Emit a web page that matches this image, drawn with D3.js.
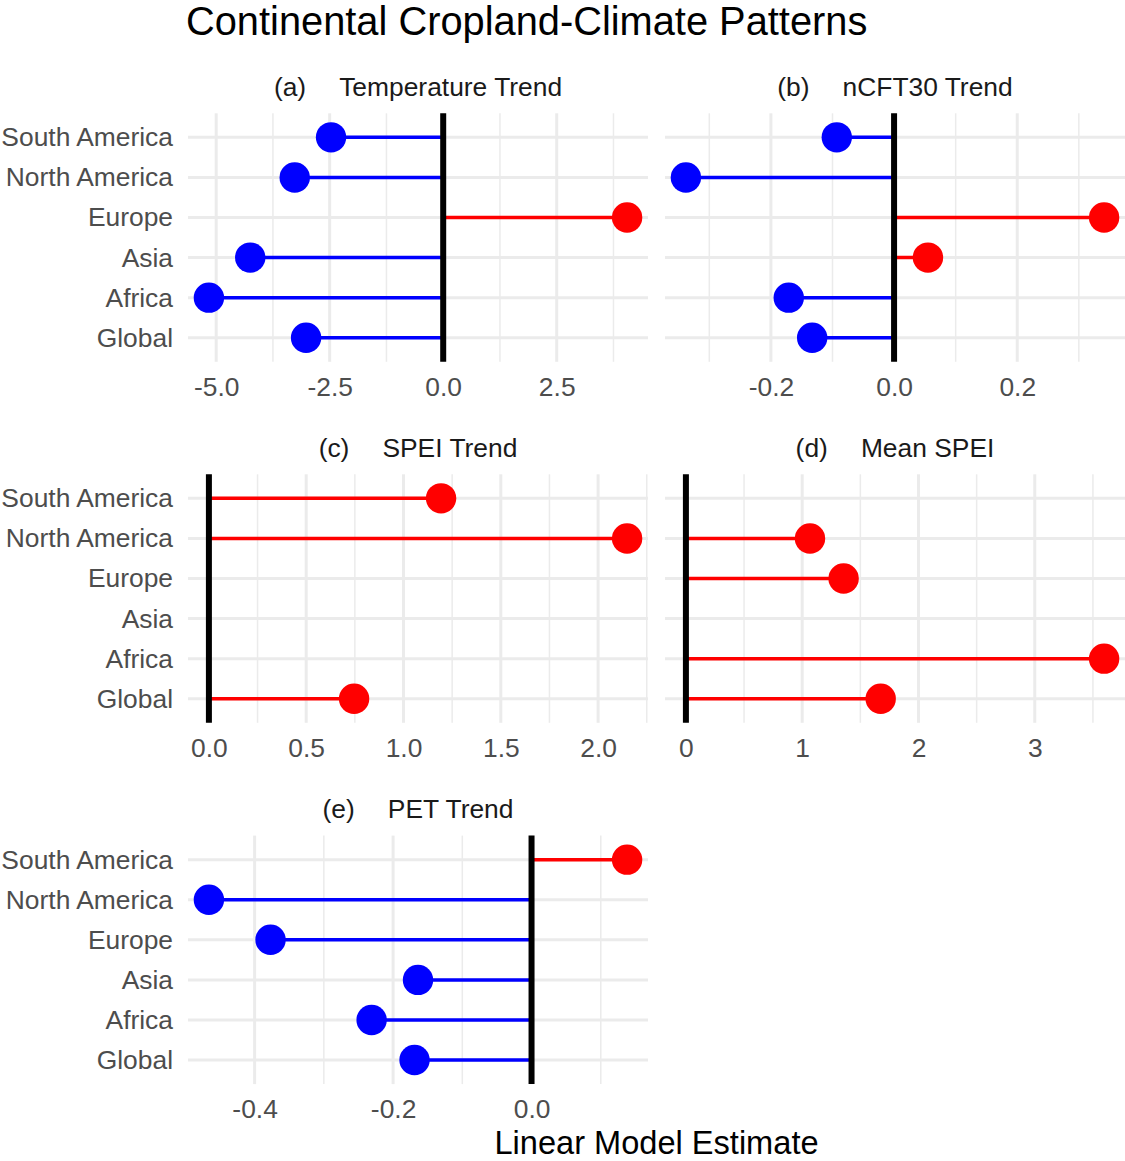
<!DOCTYPE html>
<html>
<head>
<meta charset="utf-8">
<script src="https://cdn.jsdelivr.net/npm/d3@7"></script>
<style>
  body { margin: 0; background: #fff; }
  text { font-family: "Liberation Sans", Arial, Helvetica, sans-serif; }
</style>
</head>
<body>
<div id="chart"></div>
<script>
const width = 1125;
const height = 1161;

// categories, top to bottom
const continents = ["South America", "North America", "Europe", "Asia", "Africa", "Global"];

// estimates per continent (null = not shown)
const temperatureTrend = [-2.47, -3.27, 4.05, -4.25, -5.16, -3.02];
const ncft30Trend = [-0.093, -0.338, 0.341, 0.055, -0.171, -0.133];
const speiTrend = [1.193, 2.149, null, null, null, 0.746];
const meanSpei = [null, 1.067, 1.356, null, 3.596, 1.675];
const petTrend = [0.138, -0.466, -0.377, -0.164, -0.231, -0.169];

const panelLetters = ["(a)", "(b)", "(c)", "(d)", "(e)"];
const panelTitles = ["Temperature Trend", "nCFT30 Trend", "SPEI Trend", "Mean SPEI", "PET Trend"];

// x breaks and their labels
const ticksA = [-5, -2.5, 0, 2.5];
const labelsA = ["-5.0", "-2.5", "0.0", "2.5"];
const ticksB = [-0.2, 0, 0.2];
const labelsB = ["-0.2", "0.0", "0.2"];
const ticksC = [0, 0.5, 1, 1.5, 2];
const labelsC = ["0.0", "0.5", "1.0", "1.5", "2.0"];
const ticksD = [0, 1, 2, 3];
const labelsD = ["0", "1", "2", "3"];
const ticksE = [-0.4, -0.2, 0];
const labelsE = ["-0.4", "-0.2", "0.0"];

const panelW = 460;
const panelH = 248.5;
const colX = [188, 665];
const rowY = [113.3, 474.3, 835.6];
const smallFont = 26.4;

const panels = [
    { values: temperatureTrend, ticks: ticksA, labels: labelsA, col: 0, row: 0 },
    { values: ncft30Trend, ticks: ticksB, labels: labelsB, col: 1, row: 0 },
    { values: speiTrend, ticks: ticksC, labels: labelsC, col: 0, row: 1 },
    { values: meanSpei, ticks: ticksD, labels: labelsD, col: 1, row: 1 },
    { values: petTrend, ticks: ticksE, labels: labelsE, col: 0, row: 2 }
];

const svg = d3.select("#chart").append("svg")
    .attr("width", width)
    .attr("height", height);

svg.append("rect")
    .attr("width", width)
    .attr("height", height)
    .attr("fill", "#fff");

svg.append("text")
    .attr("x", 186)
    .attr("y", 35)
    .attr("font-size", 39.8)
    .attr("fill", "#000")
    .text("Continental Cropland-Climate Patterns");

svg.append("text")
    .attr("x", (colX[0] + colX[1] + panelW) / 2)
    .attr("y", 1153.8)
    .attr("text-anchor", "middle")
    .attr("font-size", 32.6)
    .attr("fill", "#000")
    .text("Linear Model Estimate");

panels.forEach((p, i) => drawPanel(p, i));

function drawPanel(p, i) {
    const left = colX[p.col];
    const top = rowY[p.row];
    const g = svg.append("g").attr("transform", `translate(${left},${top})`);

    const rows = continents.map((c, k) => ({ name: c, value: p.values[k] }))
        .filter(d => d.value !== null);

    // ggplot style 5% expansion around the data and zero
    const ext = d3.extent([0, ...rows.map(d => d.value)]);
    const pad = (ext[1] - ext[0]) * 0.05;
    const x = d3.scaleLinear()
        .domain([ext[0] - pad, ext[1] + pad])
        .range([0, panelW]);

    const y = d3.scalePoint()
        .domain(continents)
        .range([0, panelH])
        .padding(0.6);

    const step = p.ticks[1] - p.ticks[0];
    const minor = [p.ticks[0] - step / 2, ...p.ticks.map(t => t + step / 2)]
        .filter(t => t >= x.domain()[0] && t <= x.domain()[1]);

    g.append("g").selectAll("line")
        .data(minor)
        .enter().append("line")
        .attr("x1", d => x(d)).attr("x2", d => x(d))
        .attr("y1", 0).attr("y2", panelH)
        .attr("stroke", "#EBEBEB")
        .attr("stroke-width", 1.5);

    g.append("g").selectAll("line")
        .data(p.ticks)
        .enter().append("line")
        .attr("x1", d => x(d)).attr("x2", d => x(d))
        .attr("y1", 0).attr("y2", panelH)
        .attr("stroke", "#EBEBEB")
        .attr("stroke-width", 3);

    g.append("g").selectAll("line")
        .data(continents)
        .enter().append("line")
        .attr("x1", 0).attr("x2", panelW)
        .attr("y1", d => y(d)).attr("y2", d => y(d))
        .attr("stroke", "#EBEBEB")
        .attr("stroke-width", 3);

    g.append("g").selectAll("line")
        .data(rows)
        .enter().append("line")
        .attr("x1", x(0))
        .attr("x2", d => x(d.value))
        .attr("y1", d => y(d.name))
        .attr("y2", d => y(d.name))
        .attr("stroke", d => d.value < 0 ? "#0000FF" : "#FF0000")
        .attr("stroke-width", 3.5);

    g.append("line")
        .attr("x1", x(0)).attr("x2", x(0))
        .attr("y1", 0).attr("y2", panelH)
        .attr("stroke", "#000")
        .attr("stroke-width", 6);

    g.append("g").selectAll("circle")
        .data(rows)
        .enter().append("circle")
        .attr("cx", d => x(d.value))
        .attr("cy", d => y(d.name))
        .attr("r", 15.2)
        .attr("fill", d => d.value < 0 ? "#0000FF" : "#FF0000");

    // axes: y labels only on the left column
    const axes = [];
    axes.push(g.append("g")
        .attr("transform", `translate(0,${panelH})`)
        .call(d3.axisBottom(x)
            .tickValues(p.ticks)
            .tickFormat((d, k) => p.labels[k])
            .tickSize(0)
            .tickPadding(15.5)));

    if (p.col === 0) {
        axes.push(g.append("g")
            .call(d3.axisLeft(y).tickSize(0).tickPadding(15)));
    }

    axes.forEach(a => {
        a.select(".domain").remove();
        a.selectAll("text")
            .attr("font-family", null)
            .attr("font-size", smallFont)
            .attr("fill", "#4D4D4D");
    });

    // strip label
    const strip = g.append("text")
        .attr("x", panelW / 2)
        .attr("y", -17.5)
        .attr("text-anchor", "middle")
        .attr("font-size", smallFont)
        .attr("fill", "#1A1A1A");
    strip.append("tspan").text(panelLetters[i]);
    strip.append("tspan").attr("dx", 33).text(panelTitles[i]);
}
</script>
</body>
</html>
